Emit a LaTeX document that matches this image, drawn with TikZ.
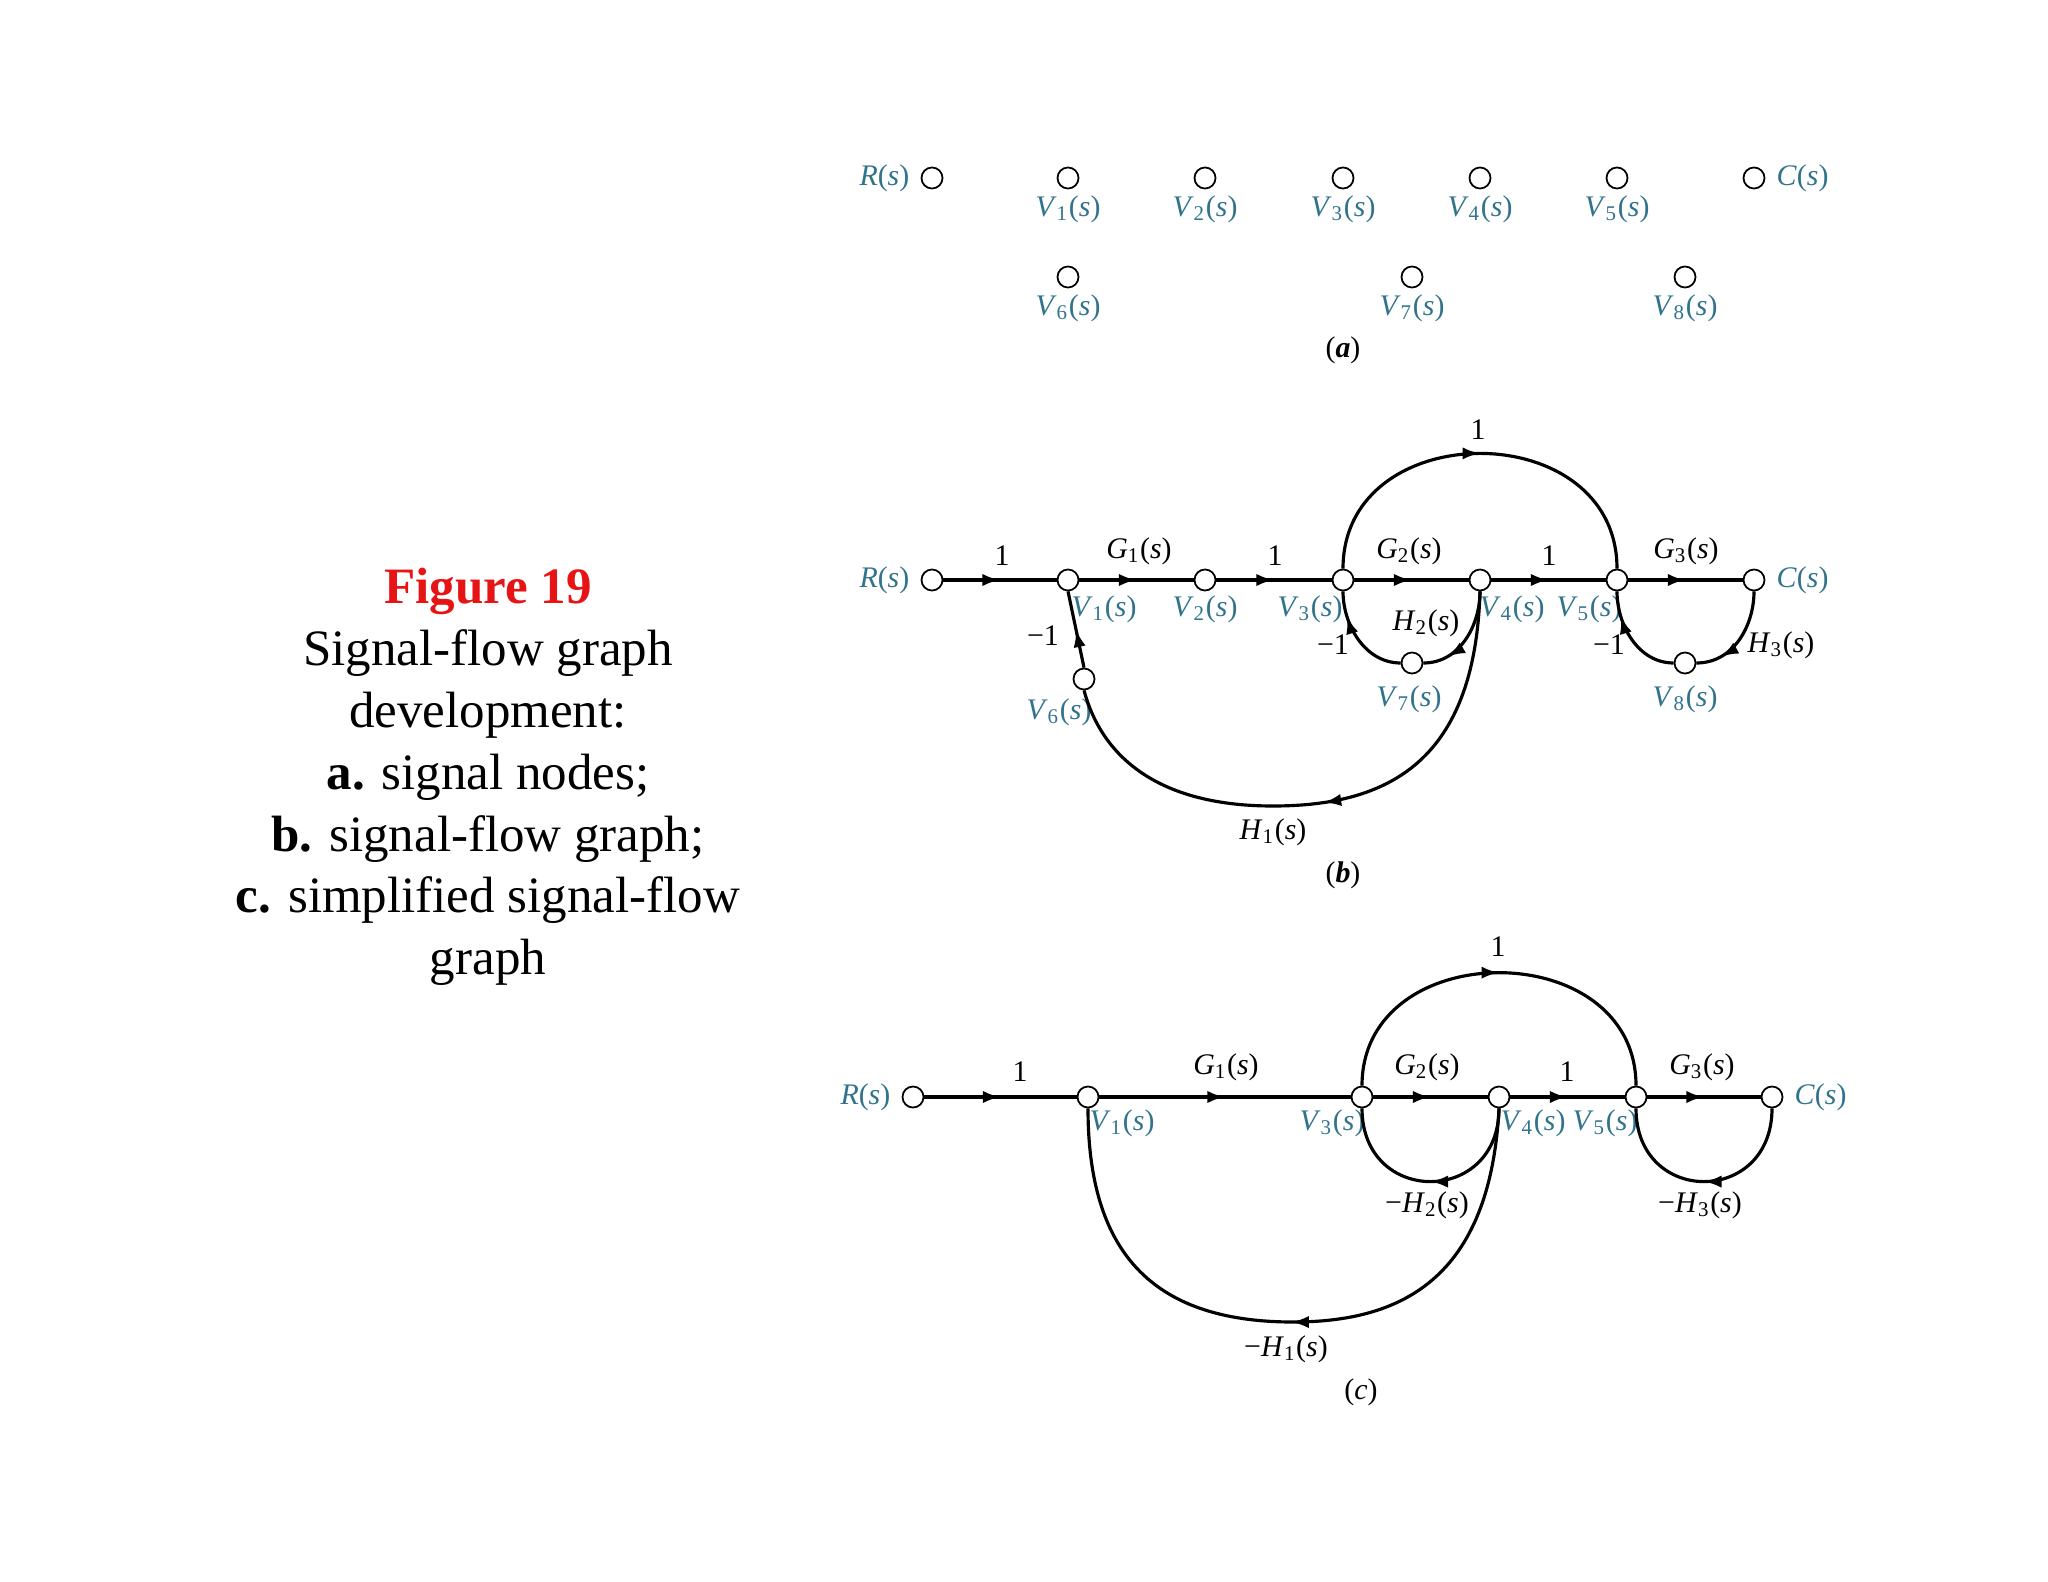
\documentclass[tikz,border=0pt]{standalone}
\usepackage{fontspec}
\setmainfont{Liberation Serif}
\usetikzlibrary{decorations.markings,arrows.meta}
\definecolor{teal1}{RGB}{50,115,140}
\definecolor{figred}{RGB}{230,20,20}
\newcommand{\sv}[2]{\textit{#1}\textsubscript{#2}(\textit{s})}
\begin{document}
\begin{tikzpicture}[x=0.01cm,y=-0.01cm,
  sn/.style={draw,circle,minimum size=0.21cm,inner sep=0pt,line width=0.5pt},
  vl/.style={text=teal1,font=\fontsize{8.5}{10}\selectfont,inner sep=0pt},
  gl/.style={font=\fontsize{8.5}{10}\selectfont,inner sep=0pt},
  br/.style={line width=0.9pt},
  midarrow/.style={br,postaction={decorate},decoration={markings,mark=at position #1 with {\arrow{Latex[length=5pt,width=3.5pt]}}}},
  midarrow/.default=0.5]
\useasboundingbox (0,0) rectangle (2048,1582);
% caption
\node[align=center,font=\fontsize{14.5}{17.6}\selectfont] (cap) at (488,777) {%
{\color{figred}\bfseries Figure 19}\\Signal-flow graph\\development:\\\textbf{a.} signal nodes;\\\textbf{b.} signal-flow graph;\\\textbf{c.} simplified signal-flow\\graph};
% ---------- (a)
\foreach \n/\x in {aR/932,a1/1068,a2/1205,a3/1343,a4/1480,a5/1617,aC/1754}{\node[sn] (\n) at (\x,178) {};}
\node[sn] (a6) at (1068,277) {};
\node[sn] (a7) at (1412,277) {};
\node[sn] (a8) at (1685,277) {};
\node[vl,anchor=east] (laR) at (910,178) {\textit{R}(\textit{s})};
\node[vl,anchor=west] (laC) at (1776,178) {\textit{C}(\textit{s})};
\foreach \n/\i in {a1/1,a2/2,a3/3,a4/4,a5/5,a6/6,a7/7,a8/8}{\node[vl] (l\n) at ([yshift=-0.31cm]\n) {\sv{V}{\i}};}
\node[gl] (pa) at (1343,350) {(\textbf{\textit{a}})};
% ---------- (b)
\foreach \n/\x in {bR/932,b1/1068,b2/1205,b3/1343,b4/1480,b5/1617,bC/1754}{\node[sn] (\n) at (\x,580) {};}
\node[sn] (b6) at (1084,679) {};
\node[sn] (b7) at (1412,663) {};
\node[sn] (b8) at (1685,663) {};
\node[vl,anchor=east] (lbR) at (910,580) {\textit{R}(\textit{s})};
\node[vl,anchor=west] (lbC) at (1776,580) {\textit{C}(\textit{s})};
\node[vl] (lb1) at (1104,609) {\sv{V}{1}};
\node[vl] (lb2) at (1205,609) {\sv{V}{2}};
\node[vl] (lb3) at (1310,609) {\sv{V}{3}};
\node[vl] (lb4) at (1512,609) {\sv{V}{4}};
\node[vl] (lb5) at (1589,609) {\sv{V}{5}};
\node[vl] (lb6) at (1059,712) {\sv{V}{6}};
\node[vl] (lb7) at (1409,699) {\sv{V}{7}};
\node[vl] (lb8) at (1685,699) {\sv{V}{8}};
\draw[midarrow] (bR) -- (b1);
\draw[midarrow] (b1) -- (b2);
\draw[midarrow] (b2) -- (b3);
\draw[midarrow] (b3) -- (b4);
\draw[midarrow] (b4) -- (b5);
\draw[midarrow] (b5) -- (bC);
\draw[midarrow] (b3.north) .. controls (1343,415) and (1617,415) .. (b5.north);
\draw[midarrow=0.75] (b4.south) .. controls (1480,625) and (1460,663) .. (b7.east);
\draw[midarrow=0.75] (b7.west) .. controls (1365,663) and (1343,625) .. (b3.south);
\draw[midarrow=0.75] (bC.south) .. controls (1754,625) and (1734,663) .. (b8.east);
\draw[midarrow=0.75] (b8.west) .. controls (1638,663) and (1617,625) .. (b5.south);
\draw[midarrow] (b4.south) .. controls (1475,760) and (1390,806) .. (1273,806) .. controls (1150,806) and (1100,750) .. (b6.south);
\draw[midarrow] (b6.north) -- (b1.south);
\node[gl] (gb1) at (1002,556) {1};
\node[gl] (gb2) at (1139,551) {\sv{G}{1}};
\node[gl] (gb3) at (1275,556) {1};
\node[gl] (gb4) at (1409,551) {\sv{G}{2}};
\node[gl] (gb5) at (1549,556) {1};
\node[gl] (gb6) at (1686,551) {\sv{G}{3}};
\node[gl] (gb7) at (1478,430) {1};
\node[gl] (gb8) at (1043,636) {−1};
\node[gl] (gb9) at (1426,623) {\sv{H}{2}};
\node[gl] (gb10) at (1333,645) {−1};
\node[gl] (gb11) at (1609,645) {−1};
\node[gl] (gb12) at (1781,645) {\sv{H}{3}};
\node[gl] (gb13) at (1273,832) {\sv{H}{1}};
\node[gl] (pb) at (1343,875) {(\textbf{\textit{b}})};
% ---------- (c)
\foreach \n/\x in {cR/913,c1/1088,c3/1362,c4/1499,c5/1636,cC/1772}{\node[sn] (\n) at (\x,1097) {};}
\node[vl,anchor=east] (lcR) at (891,1097) {\textit{R}(\textit{s})};
\node[vl,anchor=west] (lcC) at (1794,1097) {\textit{C}(\textit{s})};
\node[vl] (lc1) at (1122,1123) {\sv{V}{1}};
\node[vl] (lc3) at (1332,1123) {\sv{V}{3}};
\node[vl] (lc4) at (1533,1123) {\sv{V}{4}};
\node[vl] (lc5) at (1605,1123) {\sv{V}{5}};
\draw[midarrow] (cR) -- (c1);
\draw[midarrow] (c1) -- (c3);
\draw[midarrow] (c3) -- (c4);
\draw[midarrow] (c4) -- (c5);
\draw[midarrow] (c5) -- (cC);
\draw[midarrow] (c3.north) .. controls (1362,935) and (1636,935) .. (c5.north);
\draw[midarrow] (c4.south) .. controls (1499,1206) and (1362,1206) .. (c3.south);
\draw[midarrow] (cC.south) .. controls (1772,1206) and (1636,1206) .. (c5.south);
\draw[midarrow] (c4.south) .. controls (1490,1280) and (1400,1322) .. (1293,1322) .. controls (1150,1322) and (1088,1250) .. (c1.south);
\node[gl] (gc1) at (1020,1072) {1};
\node[gl] (gc2) at (1226,1067) {\sv{G}{1}};
\node[gl] (gc3) at (1427,1067) {\sv{G}{2}};
\node[gl] (gc4) at (1567,1072) {1};
\node[gl] (gc5) at (1702,1067) {\sv{G}{3}};
\node[gl] (gc6) at (1498,947) {1};
\node[gl] (gc7) at (1427,1205) {−\sv{H}{2}};
\node[gl] (gc8) at (1700,1205) {−\sv{H}{3}};
\node[gl] (gc9) at (1286,1349) {−\sv{H}{1}};
\node[gl] (pc) at (1361,1392) {(\textit{c})};
\end{tikzpicture}
\end{document}
